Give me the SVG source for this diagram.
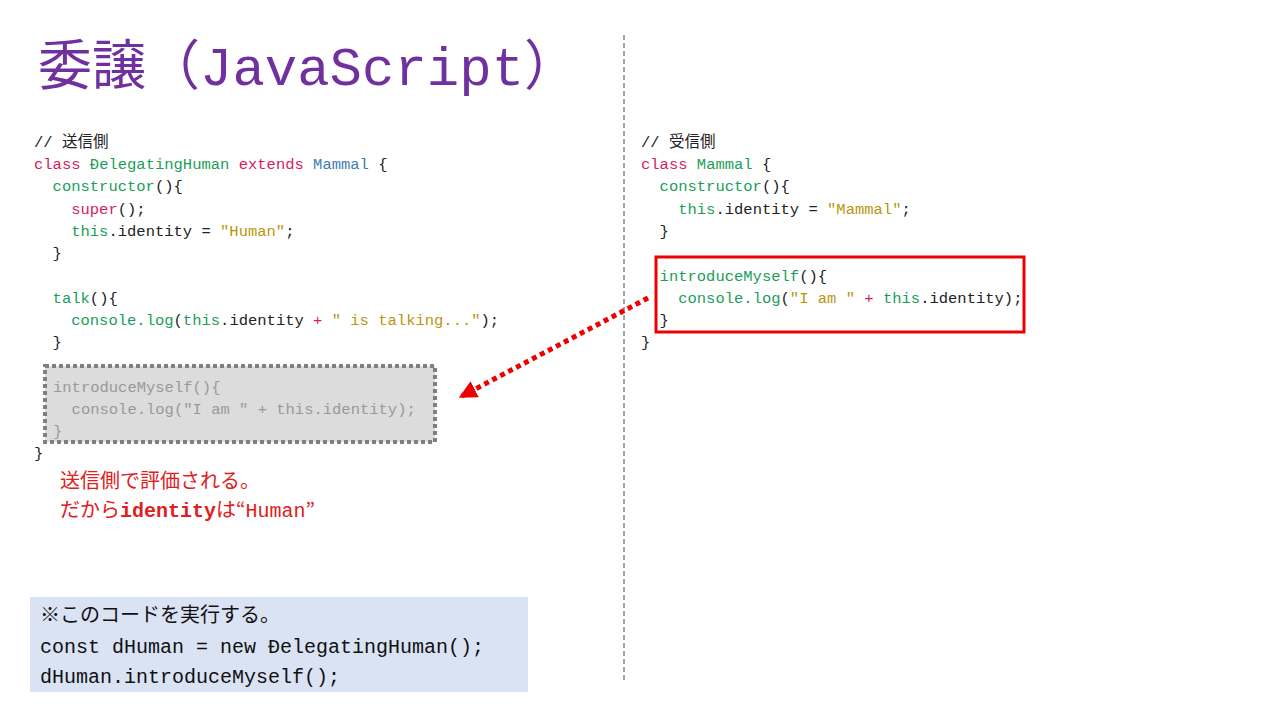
<svg xmlns="http://www.w3.org/2000/svg" width="1280" height="720" viewBox="0 0 1280 720">
<style>
.c{font-family:"Liberation Mono","Noto Sans CJK JP",monospace;font-size:15.5px;fill:#222;white-space:pre}
.k{fill:#d81b60}.g{fill:#1a9e5a}.b{fill:#3e7cb1}.s{fill:#b8960c}
.gr{fill:#999}
.r{font-family:"Noto Sans CJK JP",sans-serif;font-size:20px;fill:#e02020}
.rm{font-family:"Liberation Mono","Noto Sans CJK JP",monospace}
.bt{font-family:"Liberation Mono","Noto Sans CJK JP",monospace;font-size:20px;fill:#111;white-space:pre}
</style>
<defs><marker id="ah" viewBox="0 0 10 10" refX="8" refY="5" markerWidth="3.6" markerHeight="3.6" orient="auto"><path d="M0,0L10,5L0,10z" fill="#e00"/></marker></defs>
<rect width="1280" height="720" fill="#fff"/>
<text x="38" y="85" font-family="'Liberation Mono','Noto Sans CJK JP',monospace" font-size="54" fill="#7030a0">委譲（JavaScript）</text>
<line x1="624" y1="35" x2="624" y2="680" stroke="#888" stroke-width="1.5" stroke-dasharray="5,3"/>
<g id="sender">
<text class="c" x="34" y="147">// 送信側</text>
<text class="c" x="34" y="169"><tspan class="k">class</tspan> <tspan class="g">ĐelegatingHuman</tspan> <tspan class="k">extends</tspan> <tspan class="b">Mammal</tspan> {</text>
<text class="c" x="34" y="191">  <tspan class="g">constructor</tspan>(){</text>
<text class="c" x="34" y="214">    <tspan class="k">super</tspan>();</text>
<text class="c" x="34" y="236">    <tspan class="g">this</tspan>.identity = <tspan class="s">"Human"</tspan>;</text>
<text class="c" x="34" y="258">  }</text>
<text class="c" x="34" y="303">  <tspan class="g">talk</tspan>(){</text>
<text class="c" x="34" y="325">    <tspan class="g">console.log</tspan>(<tspan class="g">this</tspan>.identity <tspan class="k">+</tspan> <tspan class="s">" is talking..."</tspan>);</text>
<text class="c" x="34" y="347">  }</text>
<text class="c" x="34" y="458">}</text>
</g>
<g id="delegated">
<rect x="45" y="366" width="390" height="76" fill="#dcdcdc" stroke="#808080" stroke-width="4" stroke-dasharray="4,3"/>
<text class="c gr" x="53" y="392">introduceMyself(){</text>
<text class="c gr" x="53" y="414">  console.log("I am " + this.identity);</text>
<text class="c gr" x="53" y="436">}</text>
</g>
<g id="note">
<text class="r" x="60" y="488">送信側で評価される。</text>
<text class="r" x="60" y="517">だから<tspan class="rm" font-weight="bold">identity</tspan>は“<tspan class="rm">Human</tspan>”</text>
</g>
<g id="receiver">
<text class="c" x="641" y="147">// 受信側</text>
<text class="c" x="641" y="169"><tspan class="k">class</tspan> <tspan class="g">Mammal</tspan> {</text>
<text class="c" x="641" y="191">  <tspan class="g">constructor</tspan>(){</text>
<text class="c" x="641" y="214">    <tspan class="g">this</tspan>.identity = <tspan class="s">"Mammal"</tspan>;</text>
<text class="c" x="641" y="236">  }</text>
<rect x="656" y="257" width="368" height="75" fill="none" stroke="#e00" stroke-width="3"/>
<text class="c" x="641" y="281">  <tspan class="g">introduceMyself</tspan>(){</text>
<text class="c" x="641" y="303">    <tspan class="g">console.log</tspan>(<tspan class="s">"I am "</tspan> <tspan class="k">+</tspan> <tspan class="g">this</tspan>.identity);</text>
<text class="c" x="641" y="325">  }</text>
<text class="c" x="641" y="347">}</text>
</g>
<g id="connectors">
<line x1="648" y1="298" x2="462" y2="396" stroke="#e00" stroke-width="5" stroke-dasharray="5,4" marker-end="url(#ah)"/>
</g>
<g id="code">
<rect x="30" y="597" width="498" height="95" fill="#dae3f3"/>
<text class="bt" x="40" y="622">※このコードを実行する。</text>
<text class="bt" x="40" y="653">const dHuman = new ĐelegatingHuman();</text>
<text class="bt" x="40" y="683">dHuman.introduceMyself();</text>
</g>
</svg>
